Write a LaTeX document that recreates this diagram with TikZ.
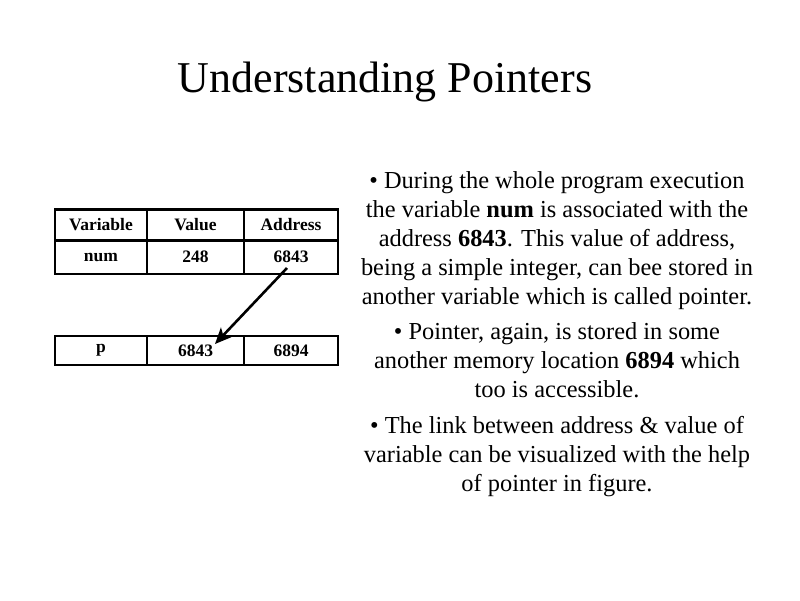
\documentclass[tikz,border=0pt]{standalone}
\usepackage{fontspec}
\setmainfont{Liberation Serif}
\usetikzlibrary{arrows.meta}
\begin{document}
\begin{tikzpicture}[x=1pt,y=-1pt,
 cell/.style={draw,line width=2.4pt,minimum height=31pt,inner sep=0pt,font=\fontsize{17.5}{20}\selectfont\bfseries},
 ln/.style={font=\fontsize{24.4}{28}\selectfont,inner sep=0pt,anchor=base}]
\useasboundingbox (0,0) rectangle (800,600);
\node[font=\fontsize{44}{50}\selectfont,anchor=base] (title) at (385,92) {Understanding Pointers};
\node[cell,minimum width=92pt] (v1) at (101,225) {Variable};
\node[cell,minimum width=97pt] (v2) at (195.5,225) {Value};
\node[cell,minimum width=94pt] (v3) at (291,225) {Address};
\node[cell,minimum width=92pt,minimum height=34pt] (n1) at (101,257) {num};
\node[cell,minimum width=97pt,minimum height=34pt] (n2) at (195.5,257) {248};
\node[cell,minimum width=94pt,minimum height=34pt] (n3) at (291,257) {\raisebox{-3pt}{6843}};
\node[cell,minimum width=92pt,minimum height=29pt] (p1) at (101,350.5) {p};
\node[cell,minimum width=97pt,minimum height=29pt] (p2) at (195.5,350.5) {6843};
\node[cell,minimum width=94pt,minimum height=29pt] (p3) at (291,350.5) {6894};
\coordinate (as) at (287,268);
\coordinate (ae) at (215,344);
\draw[line width=2.6pt,-{Stealth[length=16pt,width=14pt,inset=4pt]}] (as) -- (ae);
\node[ln] (t1) at (557,188) {• During the whole program execution};
\node[ln] (t2) at (557,217) {the variable \textbf{num} is associated with the};
\node[ln] (t3) at (557,246) {address \textbf{6843}. This value of address,};
\node[ln] (t4) at (557,275) {being a simple integer, can bee stored in};
\node[ln] (t5) at (557,304) {another variable which is called pointer.};
\node[ln] (t6) at (557,339) {• Pointer, again, is stored in some};
\node[ln] (t7) at (557,368) {another memory location \textbf{6894} which};
\node[ln] (t8) at (557,397) {too is accessible.};
\node[ln] (t9) at (557,433) {• The link between address \& value of};
\node[ln] (t10) at (557,462) {variable can be visualized with the help};
\node[ln] (t11) at (557,491) {of pointer in figure.};
\end{tikzpicture}
\end{document}
